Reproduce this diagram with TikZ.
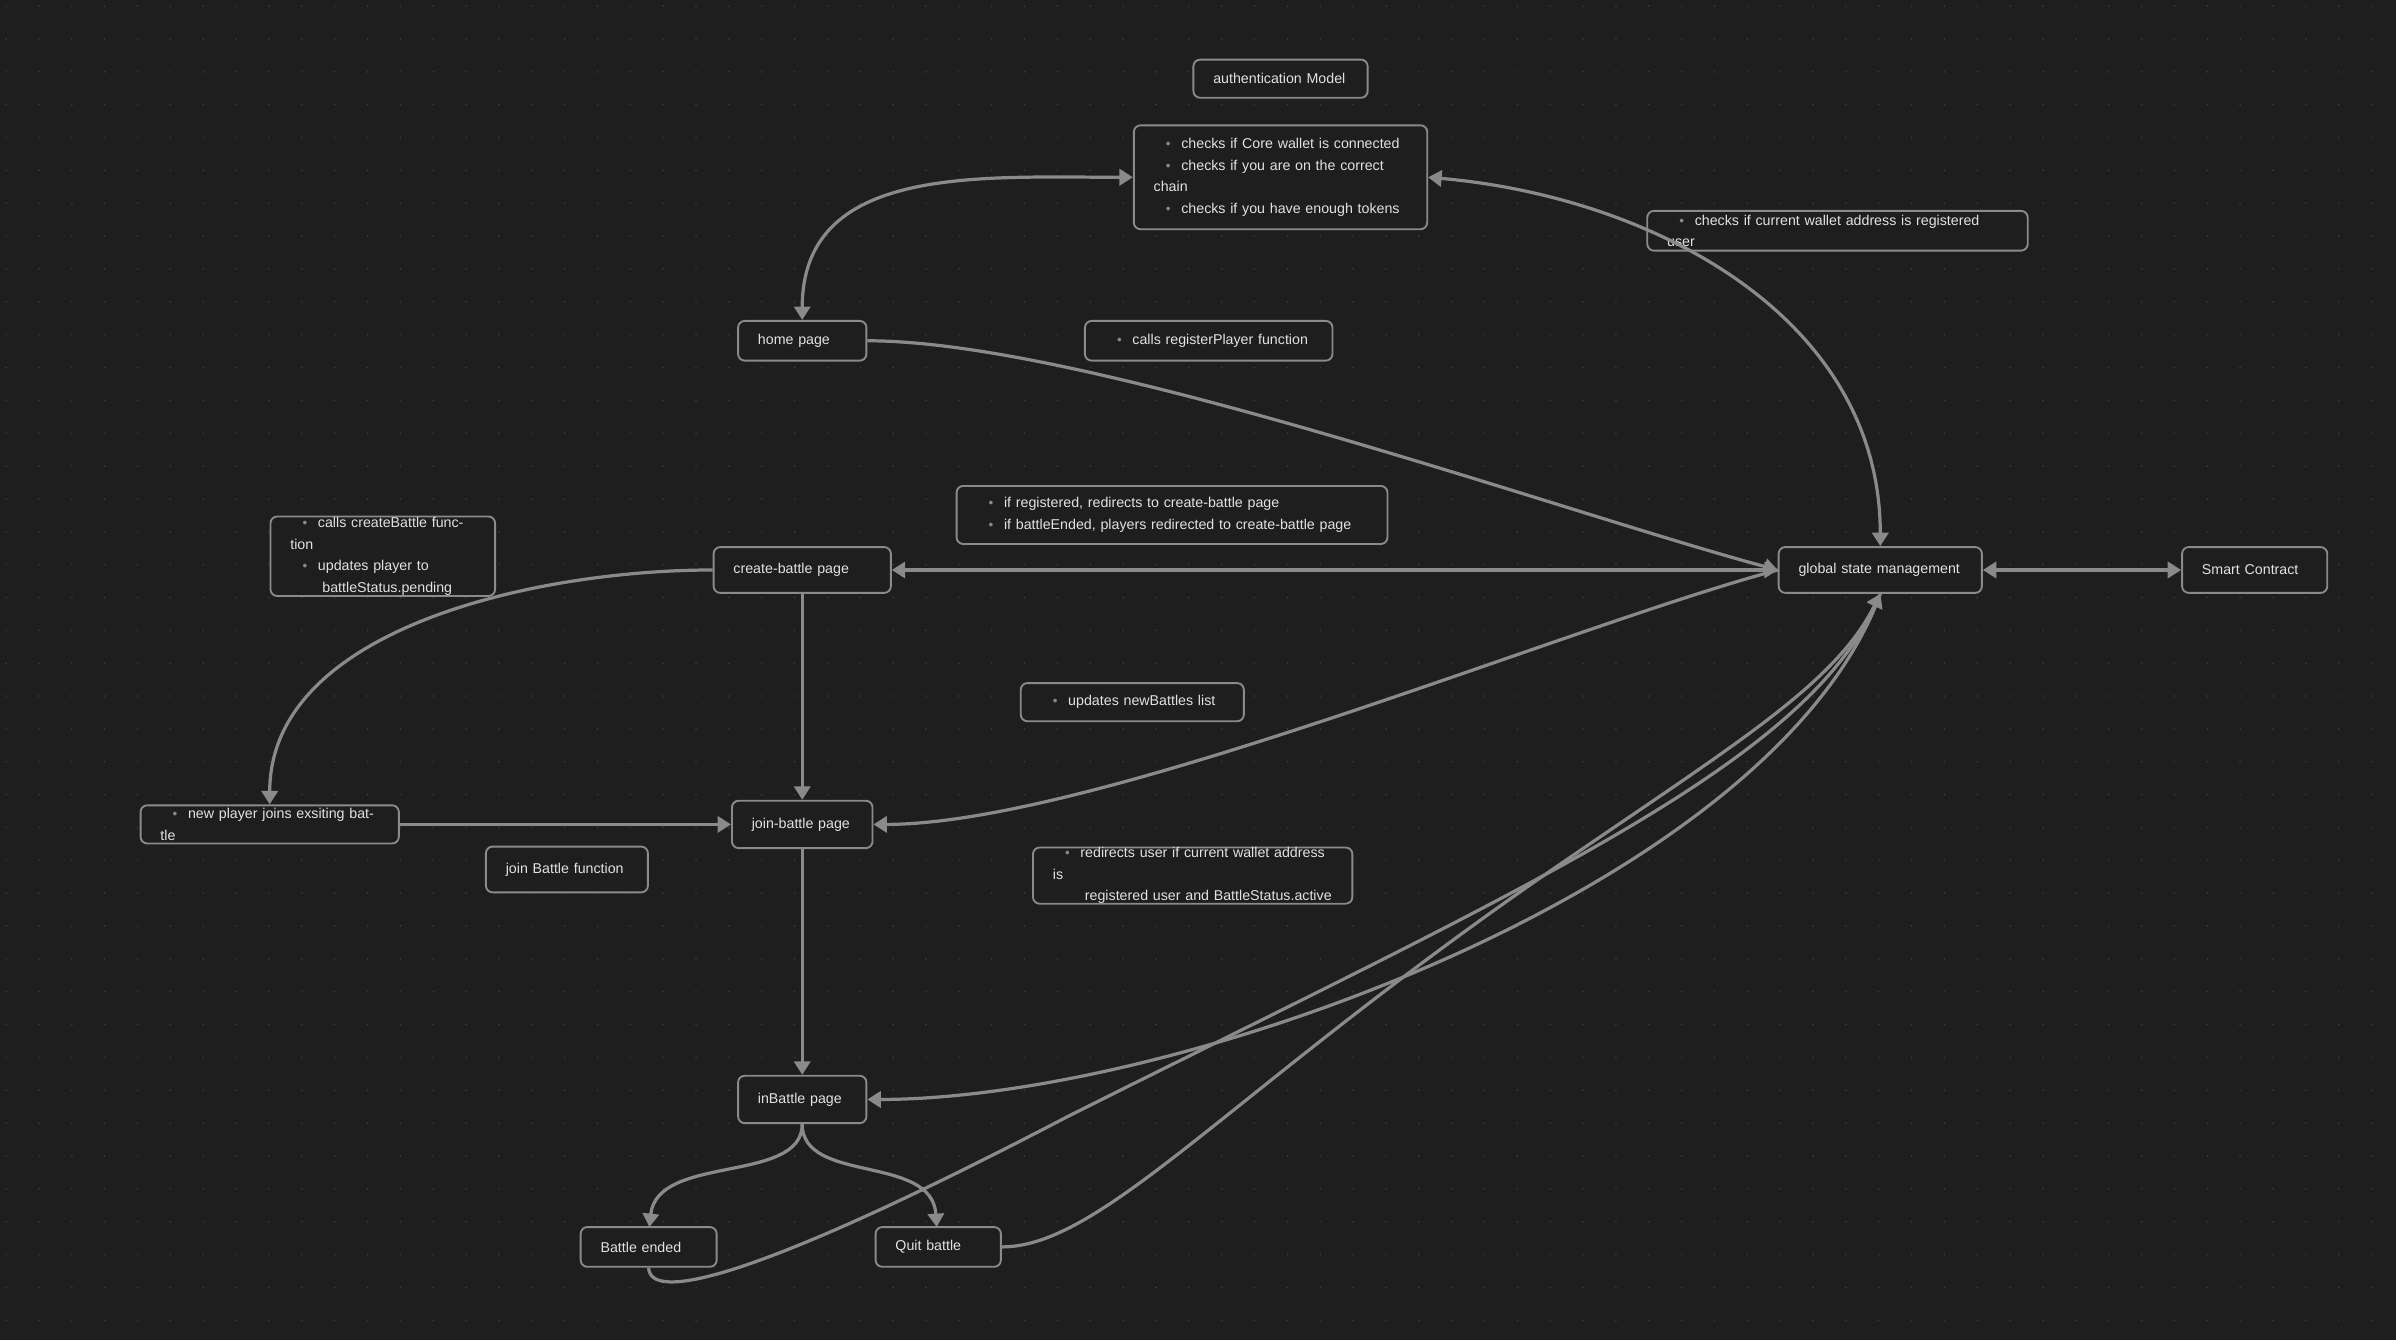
\documentclass[tikz,border=0pt]{standalone}
\usepackage{fontspec}
\setmainfont{Liberation Sans}
\usetikzlibrary{arrows.meta}
\definecolor{bg}{HTML}{1E1E1E}
\definecolor{ln}{HTML}{8A8A8A}
\definecolor{tx}{HTML}{E2E2E2}
\definecolor{bul}{HTML}{8A8A8A}
\definecolor{dot}{HTML}{3A3A3A}
\newcommand\bl[1]{\hspace*{0.16cm}{\color{bul}\tiny\textbullet}\hspace{0.14cm}#1}
\newcommand\blc[1]{\hspace*{0.42cm}#1}
\newcommand\bx[6]{%
  \pgfmathsetlengthmacro\bw{(#4-#2)*0.02cm}%
  \pgfmathsetlengthmacro\bh{(#5-#3)*0.02cm}%
  \pgfmathsetlengthmacro\tw{(#4-#2-26)*0.02cm}%
  \node[box, minimum width=\bw, minimum height=\bh, text width=\tw] (#1) at ({(#2+#4)/2},{(#3+#5)/2}) {#6};}
\begin{document}
\begin{tikzpicture}[x=0.02cm,y=-0.02cm,
  box/.style={draw=ln, line width=0.7pt, rounded corners=2.5pt, fill=bg, text=tx,
    inner xsep=0.26cm, inner ysep=0pt, align=left, font=\fontsize{5.3}{8}\selectfont},
  conn/.style={draw=ln, line width=1.2pt},
  tip/.style={-{Triangle[length=5pt,width=6pt]}},
  btip/.style={{Triangle[length=5pt,width=6pt]}-{Triangle[length=5pt,width=6pt]}}]
\fill[bg] (0,0) rectangle (1568,877);
\useasboundingbox (0,0) rectangle (1568,877);
\foreach \i in {0,...,72}{\foreach \j in {0,...,40}{
  \fill[dot] ({4+\i*21.5},{4+\j*21.5}) circle (0.35pt);}}
\bx{auth}{781}{39}{895}{64}{authentication Model}
\bx{checks}{742}{82}{934}{150}{\bl{checks if Core wallet is connected}\\\bl{checks if you are on the correct chain}\\\bl{checks if you have enough tokens}\\[2pt]}
\bx{reg}{1078}{138}{1327}{164}{\bl{checks if current wallet address is registered user}}
\bx{home}{483}{210}{567}{236}{home page}
\bx{callreg}{710}{210}{872}{236}{\bl{calls registerPlayer function}}
\bx{ifreg}{626}{318}{908}{356}{\bl{if registered, redirects to create-battle page}\\\bl{if battleEnded, players redirected to create-battle page}}
\bx{callcreate}{177}{338}{324}{390}{\bl{calls createBattle function}\\\bl{updates player to}\\\blc{battleStatus.pending}}
\bx{create}{467}{358}{583}{388}{create-battle page}
\bx{global}{1164}{358}{1297}{388}{global state management}
\bx{smart}{1428}{358}{1523}{388}{Smart Contract}
\bx{upd}{668}{447}{814}{472}{\bl{updates newBattles list}}
\bx{newp}{92}{527}{261}{552}{\bl{new player joins exsiting battle}}
\bx{join}{479}{524}{571}{555}{join-battle page}
\bx{joinf}{318}{554}{424}{584}{join Battle function}
\bx{redir}{676}{556}{885}{590}{\bl{redirects user if current wallet address is}\\\blc{registered user and BattleStatus.active}}
\bx{inb}{483}{704}{567}{735}{inBattle page}
\bx{ended}{380}{803}{469}{829}{Battle ended}
\bx{quit}{573}{803}{655}{829}{Quit battle}
\coordinate (gw) at (1160,373);
\begin{scope}[on background layer/.style={}]
\draw[conn,btip] (home.north) to[out=90,in=180,looseness=1.1] (checks.west);
\draw[conn,btip] (checks.east) to[out=-5,in=90,looseness=1.0] (global.north);
\draw[conn,tip] (home.east) to[out=0,in=165,looseness=0.6] (global.west);
\draw[conn,btip] (create.east) -- (global.west);
\draw[conn,tip] (global.west) to[out=195,in=0,looseness=0.6] (join.east);
\draw[conn,btip] (global.east) -- (smart.west);
\draw[conn,tip] (create.west) to[out=180,in=90,looseness=0.9] (newp.north);
\draw[conn,tip] (create.south) -- (join.north);
\draw[conn,tip] (newp.east) -- (join.west);
\draw[conn,tip] (join.south) -- (inb.north);
\draw[conn,tip] (global.south) to[out=-110,in=0,looseness=0.7] (inb.east);
\draw[conn,tip] (ended.south) .. controls (425,850) and (480,845) .. (700,730) .. controls (1000,580) and (1180,500) .. (global.south);
\draw[conn,tip] (quit.east) .. controls (720,816) and (800,720) .. (1000,580) .. controls (1130,490) and (1200,450) .. (global.south);
\draw[conn,tip] (inb.south) .. controls (525,775) and (430,755) .. (425,803);
\draw[conn,tip] (inb.south) .. controls (525,775) and (610,755) .. (613,803);
\end{scope}
\end{tikzpicture}
\end{document}
